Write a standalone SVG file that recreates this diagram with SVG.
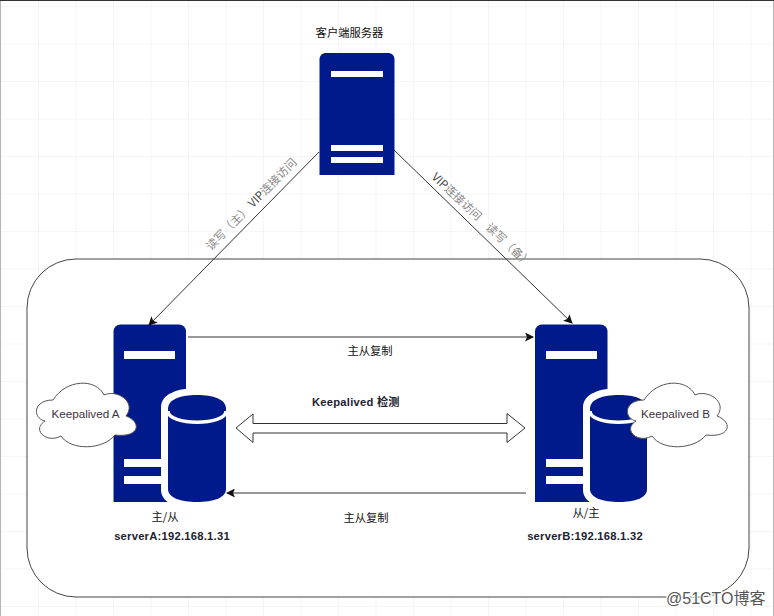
<svg xmlns="http://www.w3.org/2000/svg" width="774" height="616" viewBox="0 0 774 616">
<style>
text{font-family:"Liberation Sans","Noto Sans CJK SC",sans-serif;fill:#222}
.cjk{font-family:"Noto Sans CJK SC","Liberation Sans",sans-serif;font-size:11.300px;fill:#111}
.b{font-size:11.200px;font-weight:bold;letter-spacing:.25px;fill:#1c2230}
.k{font-size:11.700px;fill:#3d3340}
.lab{font-family:"Noto Sans CJK SC","Liberation Sans",sans-serif;font-size:11.500px;fill:#8a8a8a}
.srv{fill:#001a8c}
.bar{fill:#fff}
.ln{stroke:#333;stroke-width:1;fill:none}
.cloud{fill:#fff;stroke:#555;stroke-width:1}
.halo{fill:#fff}
</style>
<defs>
<marker id="ah" markerWidth="9" markerHeight="9" refX="8" refY="4.500" orient="auto" markerUnits="userSpaceOnUse"><path d="M0 0L9 4.500L0 9L2 4.500Z" fill="#111"/></marker>
<pattern id="grid" x="0.5" y="6" width="37.5" height="37.5" patternUnits="userSpaceOnUse"><path d="M0 0H37.5M0 0V37.5" fill="none" stroke="#ececec" stroke-width="1"/></pattern>
<path id="srvbody" d="M0 7a7 7 0 0 1 7-7H65.500a7 7 0 0 1 7 7V177.500H0Z"/>
<path id="cloudp" d="M17 17C-3 17-4 35 9 38C-5 47 11 61 25 53C35 68 67 67 79 52C104 55 106 39 90 33C101 19 81 6 68 12C60 -5 30 -4 17 17Z"/>
</defs>
<rect width="774" height="616" fill="#fff"/>
<rect width="774" height="616" fill="url(#grid)"/>
<path d="M0.500 0V616M773.500 0V616" stroke="#b5b5b5"/>
<path d="M0 0.500H774" stroke="#333"/>
<rect id="frame" x="27" y="259" width="722" height="338" rx="49" ry="49" fill="#fff" stroke="#444" stroke-width="1"/>

<g id="client">
<text class="cjk" x="349.500" y="37" text-anchor="middle">客户端服务器</text>
<path class="srv" d="M319.500 59a6 6 0 0 1 6-6H388.500a6 6 0 0 1 6 6V175H319.500Z"/>
<rect class="bar" x="331" y="71" width="52" height="6"/>
<rect class="bar" x="331" y="145" width="52" height="6"/>
<rect class="bar" x="331" y="157" width="52" height="6"/>
</g>

<g id="serverA">
<use href="#srvbody" class="srv" x="113.500" y="324.500"/>
<rect class="bar" x="124" y="351" width="51" height="8"/>
<rect class="bar" x="124" y="459" width="51" height="8"/>
<rect class="bar" x="124" y="476" width="51" height="8"/>
<path class="halo" d="M161 407C161 394 178 388 197 388C215 388 226 394 226 407V490C226 503 215 509 197 509C178 509 161 503 161 490Z"/>
<path class="srv" d="M168 409C168 399 181 395 197 395C213 395 226 399 226 409V489C226 498 213 502 197 502C181 502 168 498 168 489Z"/>
<path d="M168 411C168 426 226 426 226 411" fill="none" stroke="#fff" stroke-width="3.500"/>
<text class="cjk" x="165" y="521" text-anchor="middle">主/从</text>
<text class="b" x="172" y="540" text-anchor="middle">serverA:192.168.1.31</text>
</g>

<g id="keepalivedA">
<use href="#cloudp" class="cloud" x="36" y="383"/>
<text class="k" x="85.500" y="418" text-anchor="middle">Keepalived A</text>
</g>

<g id="serverB">
<use href="#srvbody" class="srv" x="535" y="324.500"/>
<rect class="bar" x="546" y="351" width="51" height="8"/>
<rect class="bar" x="546" y="459" width="51" height="8"/>
<rect class="bar" x="546" y="476" width="51" height="8"/>
<path class="halo" d="M583 407C583 394 600 388 619 388C637 388 647 394 647 407V490C647 503 637 509 619 509C600 509 583 503 583 490Z"/>
<path class="srv" d="M590 409C590 399 603 395 619 395C635 395 647 399 647 409V489C647 498 635 502 619 502C603 502 590 498 590 489Z"/>
<path d="M590 411C590 426 647 426 647 411" fill="none" stroke="#fff" stroke-width="3.500"/>
<text class="cjk" x="586" y="517" text-anchor="middle">从/主</text>
<text class="b" x="585" y="540" text-anchor="middle">serverB:192.168.1.32</text>
</g>

<g id="keepalivedB">
<use href="#cloudp" class="cloud" x="627" y="383"/>
<text class="k" x="675.500" y="418" text-anchor="middle">Keepalived B</text>
</g>

<g id="connectors">
<line class="ln" x1="319" y1="152" x2="149" y2="325" marker-end="url(#ah)"/>
<line class="ln" x1="394" y1="150" x2="572" y2="323" marker-end="url(#ah)"/>
<line class="ln" x1="188" y1="337" x2="533" y2="337" marker-end="url(#ah)"/>
<line class="ln" x1="526" y1="493" x2="227" y2="493" marker-end="url(#ah)"/>
<path d="M236 428L253 414V423.500H507V413.500L525 428L507 442.500V433H253V442.500Z" fill="#fff" stroke="#333" stroke-width="1"/>
<text class="lab" transform="translate(211,251) rotate(-45.500)">读写（主） <tspan fill="#444">VIP</tspan>连接访问</text>
<text class="lab" transform="translate(431,178) rotate(43)"><tspan fill="#444">VIP</tspan>连接访问 <tspan dx="8">读写（备）</tspan></text>
<text class="cjk" x="370" y="355" text-anchor="middle">主从复制</text>
<text class="cjk" x="366" y="522" text-anchor="middle">主从复制</text>
<text class="b" x="312" y="406">Keepalived 检测</text>
</g>

<text id="watermark" x="666" y="604" font-size="16" style="fill:#555;stroke:#fff;stroke-width:2.500px;paint-order:stroke">@51CTO博客</text>
</svg>
